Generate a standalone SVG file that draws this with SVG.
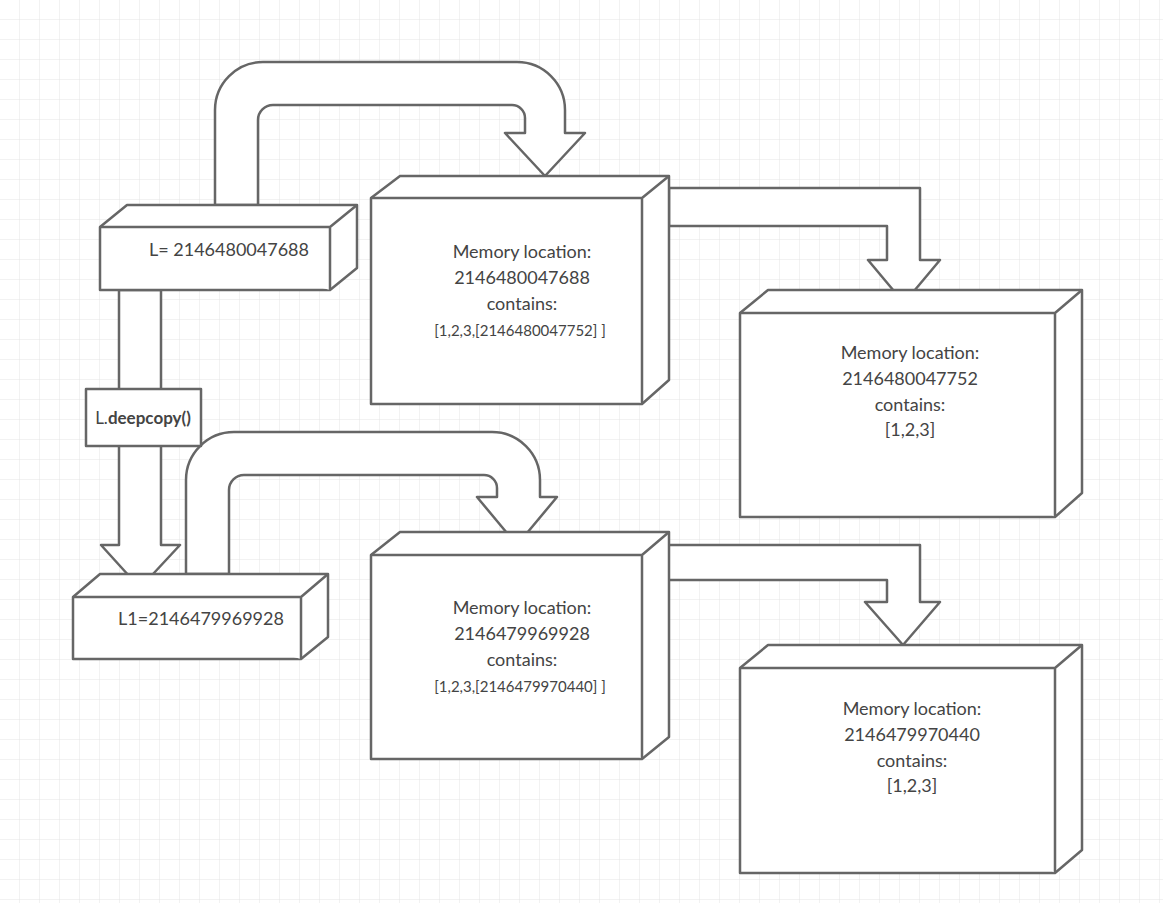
<svg xmlns="http://www.w3.org/2000/svg" width="1163" height="903" viewBox="0 0 1163 903">
<defs>
<style>
.s{fill:#fff;stroke:#666;stroke-width:2.5;stroke-linejoin:round}
.t{font-family:Lato,"Liberation Sans",sans-serif;font-size:18px;fill:#444;text-anchor:middle}
.sm{font-size:15px}
</style>
<pattern id="g" width="20" height="20" patternUnits="userSpaceOnUse">
<path d="M20 0V20M0 20H20" fill="none" stroke="#e4e4e4" stroke-width="1"/>
</pattern>
</defs>
<rect width="1163" height="903" fill="#fff"/>
<rect width="1163" height="903" fill="url(#g)"/>
<g id="connectors">
<path class="s" d="M215 205V110A48 48 0 0 1 263 62H517A48 48 0 0 1 565 110V133H585L545 176L505 133H525V118A13 13 0 0 0 512 105H273A15 15 0 0 0 258 120V205Z"/>
<path class="s" d="M186 574V480A48 48 0 0 1 234 432H492A48 48 0 0 1 540 480V497H557L517 545L477 497H497V488A13 13 0 0 0 484 475H244A15 15 0 0 0 229 490V574Z"/>
<path class="s" d="M119 290V545H101L140 588L180 545H161V290Z"/>
<path class="s" d="M669 188H920V260H940L904 303L868 260H887V226H669Z"/>
<path class="s" d="M655 545H920V602H940L903 645L865 602H887V580H655Z"/>
</g>
<g id="L">
<path class="s" d="M100 227L127 205H357V268L330 290H100Z"/>
<path class="s" d="M100 227H330V290M330 227L357 205" fill="none"/>
<text class="t" x="229" y="256">L= 2146480047688</text>
</g>
<g id="deepcopy">
<rect class="s" x="86" y="389" width="115" height="57"/>
<text class="t" x="143" y="424" style="font-size:17px">L.<tspan font-weight="bold">deepcopy()</tspan></text>
</g>
<g id="L1">
<path class="s" d="M73 597L100 574H328V637L301 659H73Z"/>
<path class="s" d="M73 597H301V659M301 597L328 574" fill="none"/>
<text class="t" x="201" y="625">L1=2146479969928</text>
</g>
<g id="mem1">
<path class="s" d="M371 198L400 176H669V380L642 404H371Z"/>
<path class="s" d="M371 198H642V404M642 198L669 176" fill="none"/>
<text class="t" x="522" y="258">Memory location:</text>
<text class="t" x="522" y="284">2146480047688</text>
<text class="t" x="522" y="310">contains:</text>
<text class="t sm" x="520" y="336">[1,2,3,[2146480047752] ]</text>
</g>
<g id="mem2">
<path class="s" d="M740 313L768 290H1082V493L1055 517H740Z"/>
<path class="s" d="M740 313H1055V517M1055 313L1082 290" fill="none"/>
<text class="t" x="910" y="359">Memory location:</text>
<text class="t" x="910" y="385">2146480047752</text>
<text class="t" x="910" y="411">contains:</text>
<text class="t" x="910" y="436">[1,2,3]</text>
</g>
<g id="mem3">
<path class="s" d="M371 555L400 532H669V737L642 759H371Z"/>
<path class="s" d="M371 555H642V759M642 555L669 532" fill="none"/>
<text class="t" x="522" y="614">Memory location:</text>
<text class="t" x="522" y="640">2146479969928</text>
<text class="t" x="522" y="666">contains:</text>
<text class="t sm" x="520" y="692">[1,2,3,[2146479970440] ]</text>
</g>
<g id="mem4">
<path class="s" d="M740 668L768 645H1082V850L1055 873H740Z"/>
<path class="s" d="M740 668H1055V873M1055 668L1082 645" fill="none"/>
<text class="t" x="912" y="715">Memory location:</text>
<text class="t" x="912" y="741">2146479970440</text>
<text class="t" x="912" y="767">contains:</text>
<text class="t" x="912" y="792">[1,2,3]</text>
</g>
</svg>
